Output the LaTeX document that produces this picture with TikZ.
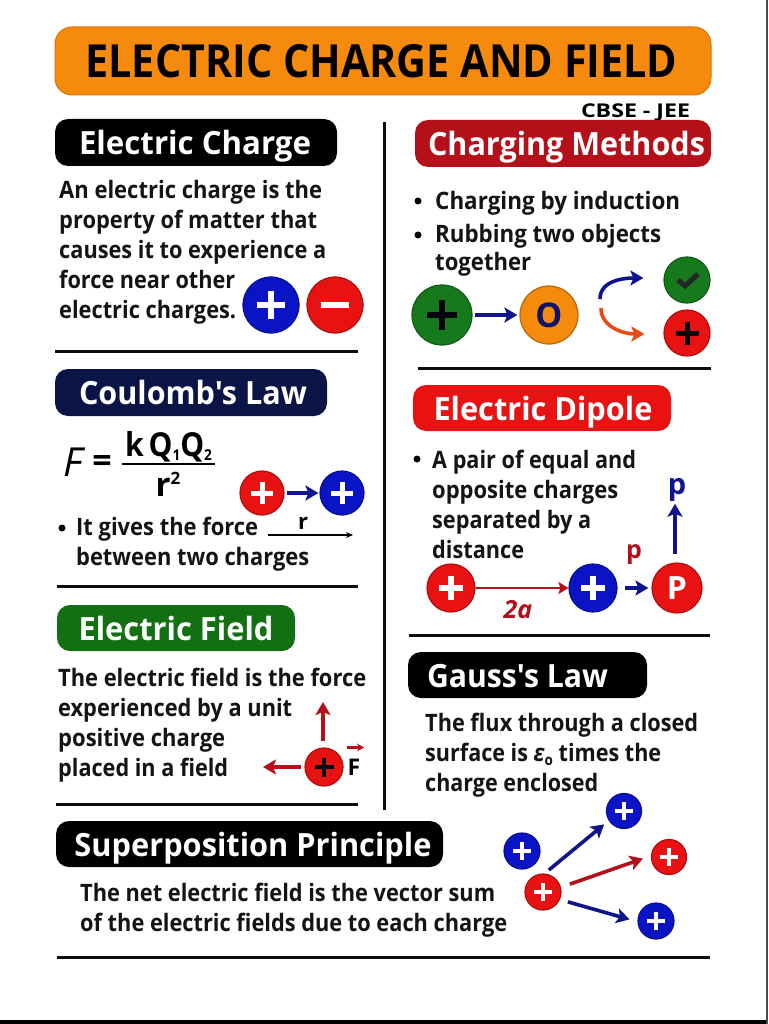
\documentclass[tikz,border=0pt]{standalone}
\usepackage{fontspec}
\usepackage{graphicx}
\setmainfont{Open Sans}
\newfontfamily\bodyf{Open Sans}
\newfontfamily\headf{Open Sans}
\usetikzlibrary{calc,arrows.meta}
\definecolor{orangeT}{HTML}{F68A0C}
\definecolor{orangeB}{HTML}{D9730A}
\definecolor{navyP}{HTML}{0A1446}
\definecolor{greenP}{HTML}{127012}
\definecolor{redP}{HTML}{E81212}
\definecolor{darkred}{HTML}{B3101A}
\definecolor{blueC}{HTML}{0A14C4}
\definecolor{navyA}{HTML}{10148C}
\definecolor{orangeA}{HTML}{E84A14}
\definecolor{greenC}{HTML}{167A1C}
\newcommand{\fitw}[2]{\resizebox{#1pt}{\height}{#2}}
\newcommand{\ptxt}[3]{\hspace*{#1pt}\raisebox{-12pt}[0pt][0pt]{\fitw{#2}{#3}}}
\newcommand{\subs}[1]{\raisebox{-4pt}{\fontsize{15}{15}\selectfont #1}}
\tikzset{
  x=1pt,y=-1pt,
  pill/.style={rounded corners=13pt,inner sep=0pt,draw=none,text=white,font=\headf\bfseries\fontsize{32}{32}\selectfont},
  body/.style={anchor=west,inner sep=0pt,align=left,font=\bodyf\bfseries\fontsize{24}{30}\selectfont,text=black!92},
  dot/.style={circle,fill=black,inner sep=0pt,minimum size=7pt},
  rule/.style={line width=3pt,black!95},
  chg/.style n args={4}{circle,inner sep=0pt,minimum size=#3pt,fill=#1,draw=#1!75!black,line width=1.2pt,
    path picture={\draw[line width=#4pt,#2]
      ($(path picture bounding box.center)!.5!(path picture bounding box.west)$) --
      ($(path picture bounding box.center)!.5!(path picture bounding box.east)$)
      ($(path picture bounding box.center)!.5!(path picture bounding box.north)$) --
      ($(path picture bounding box.center)!.5!(path picture bounding box.south)$);}},
  plain/.style n args={2}{circle,inner sep=0pt,minimum size=#2pt,fill=#1,draw=#1!75!black,line width=1.2pt},
  arr/.style={-{Stealth[length=13pt,width=15pt,inset=3pt]},line width=3.6pt,line cap=butt},
}
\begin{document}
\begin{tikzpicture}
\useasboundingbox (0,0) rectangle (768,1024);
\fill[white] (0,0) rectangle (768,1024);
\fill[black] (0,1020) rectangle (768,1024);
\fill[black!70] (766,0) rectangle (768,1024);

% title
\node[rounded corners=17pt,fill=orangeT,draw=orangeB,line width=1pt,minimum width=656pt,minimum height=68pt,inner sep=0pt] (title) at (383,61)
  {\hspace*{-3pt}\resizebox{592pt}{33pt}{\headf\bfseries ELECTRIC CHARGE AND FIELD}};
\node[inner sep=0pt,font=\headf\bfseries\fontsize{19}{19}\selectfont] (cbse) at (635.5,112.5) {\fitw{109}{CBSE - JEE}};

% rules
\coordinate (v1) at (384,122); \coordinate (v2) at (384,810);
\draw[rule] (v1) -- (v2);
\coordinate (h1a) at (55,351); \coordinate (h1b) at (358,351); \draw[rule] (h1a) -- (h1b);
\coordinate (h2a) at (57,586); \coordinate (h2b) at (358,586); \draw[rule] (h2a) -- (h2b);
\coordinate (h3a) at (56,804); \coordinate (h3b) at (358,804); \draw[rule] (h3a) -- (h3b);
\coordinate (h4a) at (418,368); \coordinate (h4b) at (711,368); \draw[rule] (h4a) -- (h4b);
\coordinate (h5a) at (409,635); \coordinate (h5b) at (710,635); \draw[rule] (h5a) -- (h5b);
\coordinate (h6a) at (57,957); \coordinate (h6b) at (710,957); \draw[rule] (h6a) -- (h6b);

% headings
\node[pill,fill=black,minimum width=282pt,minimum height=47pt] (hcharge) at (196,142.5) {\ptxt{-2}{232}{Electric Charge}};
\node[pill,fill=navyP,minimum width=272pt,minimum height=47pt] (hcoul) at (191,392.5) {\ptxt{4}{228}{Coulomb's Law}};
\node[pill,fill=greenP,minimum width=238pt,minimum height=46pt] (hfield) at (176,628) {\ptxt{0}{195}{Electric Field}};
\node[pill,fill=black,minimum width=387pt,minimum height=46pt] (hsup) at (249.5,844) {\ptxt{7}{357}{Superposition Principle}};
\node[pill,fill=darkred,minimum width=296pt,minimum height=47pt] (hmeth) at (563,143.5) {\ptxt{7}{277}{Charging Methods}};
\node[pill,fill=redP,minimum width=258pt,minimum height=46pt] (hdip) at (542,408) {\ptxt{2}{219}{Electric Dipole}};
\node[pill,fill=black,minimum width=239pt,minimum height=46pt] (hgauss) at (527.5,675) {\ptxt{-20}{181}{Gauss's Law}};

% Electric charge
\node[body] (tcharge) at (59,252.5) {\fitw{263}{An electric charge is the}\\\fitw{258}{property of matter that}\\\fitw{267}{causes it to experience a}\\\fitw{176}{force near other}\\\fitw{177}{electric charges.}};
\node[chg={blueC}{white}{56}{6}] (cplus) at (271,305) {};
\node[plain={redP}{56},path picture={\draw[line width=6pt,white] ($(path picture bounding box.center)!.5!(path picture bounding box.west)$) -- ($(path picture bounding box.center)!.5!(path picture bounding box.east)$);}] (cminus) at (335,305) {};

% Coulomb
\node[inner sep=0pt,font=\bodyf\itshape\fontsize{40}{40}\selectfont] (fF) at (73,462) {F};
\node[inner sep=0pt,font=\bodyf\bfseries\fontsize{34}{34}\selectfont] (feq) at (102,464) {=};
\node[inner sep=0pt,font=\bodyf\bfseries\fontsize{33}{33}\selectfont] (fnum) at (168.5,447) {\fitw{87}{k\,Q\subs{1}Q\subs{2}}};
\node[inner sep=0pt,font=\bodyf\bfseries\fontsize{33}{33}\selectfont] (fden) at (168,484) {r\raisebox{12pt}{\fontsize{17}{17}\selectfont 2}};
\coordinate (fa) at (122,464); \coordinate (fb) at (215,464);
\draw[black,line width=2.6pt] (fa) -- (fb);
\node[chg={redP}{white}{44}{5}] (c1) at (262,493) {};
\node[chg={blueC}{white}{44}{5}] (c2) at (342,493) {};
\draw[arr,navyA,shorten <=2pt,shorten >=1pt] (c1) -- (c2);
\node[inner sep=0pt,font=\bodyf\bfseries\fontsize{22}{22}\selectfont] (rlab) at (303,523) {r};
\coordinate (ra) at (268,535); \coordinate (rb) at (353,535);
\draw[-{Stealth[length=7pt,width=6pt]},line width=1.3pt,black] (ra) -- (rb);
\node[dot] (d1) at (62,528) {};
\node[body] (tcoul) at (76,544) {\fitw{182}{It gives the force}\\\fitw{233}{between two charges}};

% Electric field
\node[body] (tfield) at (58,725.5) {\fitw{308}{The electric field is the force}\\\fitw{234}{experienced by a unit}\\\fitw{167}{positive charge}\\\fitw{170}{placed in a field}};
\node[chg={redP}{black!85!navyP}{38}{4.5}] (cf) at (324,767) {};
\coordinate (fu) at (323,702); \coordinate (fl) at (263,767);
\draw[arr,darkred] (cf.north) ++(-1,-6) -- (fu);
\draw[arr,darkred] (cf.west) ++(-3,0) -- (fl);
\node[inner sep=0pt,font=\bodyf\bfseries\fontsize{23}{23}\selectfont] (fvec) at (354,767) {F};
\coordinate (fva) at (347,747.5); \coordinate (fvb) at (364,747.5);
\draw[-{Stealth[length=7pt,width=8pt]},line width=2.2pt,darkred] (fva) -- (fvb);

% Charging methods
\node[dot] (d2) at (418,201) {};
\node[dot] (d3) at (418,235) {};
\node[body] (tm1) at (435,203) {\fitw{245}{Charging by induction}};
\node[body,font=\bodyf\bfseries\fontsize{24}{28}\selectfont] (tm2) at (435,250.5) {\fitw{226}{Rubbing two objects}\\\fitw{96}{together}};
\node[chg={greenC}{black!80!navyP}{60}{6}] (mg) at (442,315) {};
\node[plain={orangeT}{58},text=navyP!50!navyA,font=\bodyf\bfseries\fontsize{34}{34}\selectfont] (mo) at (549,315) {O};
\draw[arr,navyA,shorten <=2pt,shorten >=2pt] (mg) -- (mo);
\node[plain={greenC}{46},path picture={\draw[line width=5pt,black!85] ($(path picture bounding box.center)+(-9,0)$) -- ($(path picture bounding box.center)+(-2,6)$) -- ($(path picture bounding box.center)+(11,-6)$);}] (mc) at (687,280) {};
\node[chg={redP}{black!85!navyP}{46}{5}] (mr) at (687,333) {};
\coordinate (ma) at (600,299); \coordinate (mb) at (601,308);
\draw[arr,navyA] (ma) to[out=90,in=180] ($(mc.west)+(-20,-2)$);
\draw[arr,orangeA] (mb) to[out=-90,in=180] ($(mr.west)+(-19,1)$);

% Dipole
\node[dot] (d4) at (417,459) {};
\node[body] (tdip) at (432,504.5) {\fitw{204}{A pair of equal and}\\\fitw{186}{opposite charges}\\\fitw{159}{separated by a}\\\fitw{92}{distance}};
\node[chg={redP}{white}{48}{6}] (da) at (451,588) {};
\node[chg={blueC}{white}{48}{6}] (db) at (593,588) {};
\node[plain={redP}{50},text=white,font=\bodyf\bfseries\fontsize{32}{32}\selectfont] (dc) at (677,588) {P};
\draw[-{Stealth[length=10pt,width=12pt,inset=2pt]},line width=2.8pt,darkred] (da) -- (db);
\draw[arr,navyA,shorten >=3pt] (db) ++(32,0) -- (dc);
\node[inner sep=0pt,text=darkred,font=\headf\bfseries\itshape\fontsize{25}{25}\selectfont] (l2a) at (518,610) {2a};
\node[inner sep=0pt,text=darkred,font=\headf\bfseries\fontsize{25}{25}\selectfont] (lp1) at (634,555) {p};
\node[inner sep=0pt,text=navyA,font=\headf\bfseries\fontsize{29}{29}\selectfont] (lp2) at (677,490) {p};
\draw[arr,navyA,shorten >=2pt] (dc.north) ++(-2,-8) -- (lp2.south -| {$(dc.north)+(-2,-8)$});

% Gauss
\node[body] (tgauss) at (425,755.5) {\fitw{273}{The flux through a closed}\\\fitw{236}{surface is {\itshape ε}\subs{o} times the}\\\fitw{173}{charge enclosed}};

% Superposition
\node[body] (tsup) at (80,910.5) {\fitw{415}{The net electric field is the vector sum}\\\fitw{427}{of the electric fields due to each charge}};
\node[chg={blueC}{white}{36}{4}] (s1) at (522,851) {};
\node[chg={redP}{white}{36}{4}] (s0) at (543,892) {};
\node[chg={blueC}{white}{35}{4}] (s2) at (624,811) {};
\node[chg={redP}{white}{35}{4}] (s3) at (669,857) {};
\node[chg={blueC}{white}{36}{4}] (s4) at (656,921) {};
\draw[arr,navyA] (s0.75) ++(1,-4) -- ($(s2.215)+(-5,3)$);
\draw[arr,darkred] (s0.25) ++(10,0) -- ($(s3.185)+(-8,0)$);
\draw[arr,navyA] (s0.-25) ++(8,2) -- ($(s4.175)+(-8,0)$);
\end{tikzpicture}
\end{document}
